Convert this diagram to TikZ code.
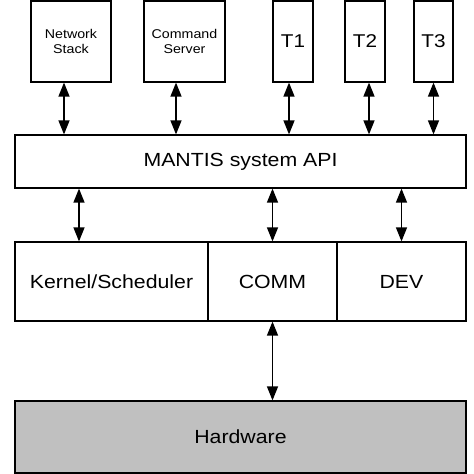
\documentclass[tikz,border=0pt]{standalone}
\usepackage{fontspec}
\setmainfont[FakeStretch=1.12]{Liberation Sans}
\usetikzlibrary{arrows.meta, positioning}

\tikzset{
	blk/.style={draw, line width=1.2pt, inner sep=0pt, align=center,
		font=\fontsize{19}{21}\selectfont},
	small/.style={font=\fontsize{12.7}{15}\selectfont},
	task/.style={font=\fontsize{18.5}{21}\selectfont},
	link/.style={line width=1.3pt, {Triangle[length=14pt,width=11pt]}-{Triangle[length=14pt,width=11pt]}}
}

\begin{document}
\begin{tikzpicture}[x=1pt, y=-1pt]
	\useasboundingbox (0,0) rectangle (474,474);

	%% tasks
	\node[blk, small, minimum width=80pt, minimum height=81pt] (net) at (71, 41.5) {Network\\Stack};
	\node[blk, small, minimum width=81pt, minimum height=81pt] (cmd) at (184.5, 41.5) {Command\\Server};
	\node[blk, task, minimum width=40pt, minimum height=81pt] (t1) at (293, 41.5) {T1};
	\node[blk, task, minimum width=40pt, minimum height=81pt] (t2) at (365, 41.5) {T2};
	\node[blk, task, minimum width=39pt, minimum height=81pt] (t3) at (433.5, 41.5) {T3};

	%% api
	\node[blk, minimum width=451pt, minimum height=53pt] (api) at (240.5, 161.5) {MANTIS system API};

	%% os
	\node[blk, minimum width=193pt, minimum height=79pt] (kern) at (111.5, 281.5) {Kernel/Scheduler};
	\node[blk, minimum width=129pt, minimum height=79pt] (comm) at (272.5, 281.5) {COMM};
	\node[blk, minimum width=129pt, minimum height=79pt] (dev) at (401.5, 281.5) {DEV};

	%% hardware
	\node[blk, fill={rgb,255:red,192;green,192;blue,192}, minimum width=451pt, minimum height=72pt] (hw) at (240.5, 437) {Hardware};

	\draw[link] ([xshift=-7pt]net.south) -- ([xshift=-7pt]net.south |- api.north);
	\draw[link] ([xshift=-8.5pt]cmd.south) -- ([xshift=-8.5pt]cmd.south |- api.north);
	\draw[link] ([xshift=-4pt]t1.south) -- ([xshift=-4pt]t1.south |- api.north);
	\draw[link] ([xshift=4pt]t2.south) -- ([xshift=4pt]t2.south |- api.north);
	\draw[link] (t3.south) -- (t3.south |- api.north);

	\draw[link] ([xshift=-32.5pt]kern.north |- api.south) -- ([xshift=-32.5pt]kern.north);
	\draw[link] (comm.north |- api.south) -- (comm.north);
	\draw[link] (dev.north |- api.south) -- (dev.north);

	\draw[link] (comm.south) -- (hw.north -| comm.south);
\end{tikzpicture}
\end{document}
